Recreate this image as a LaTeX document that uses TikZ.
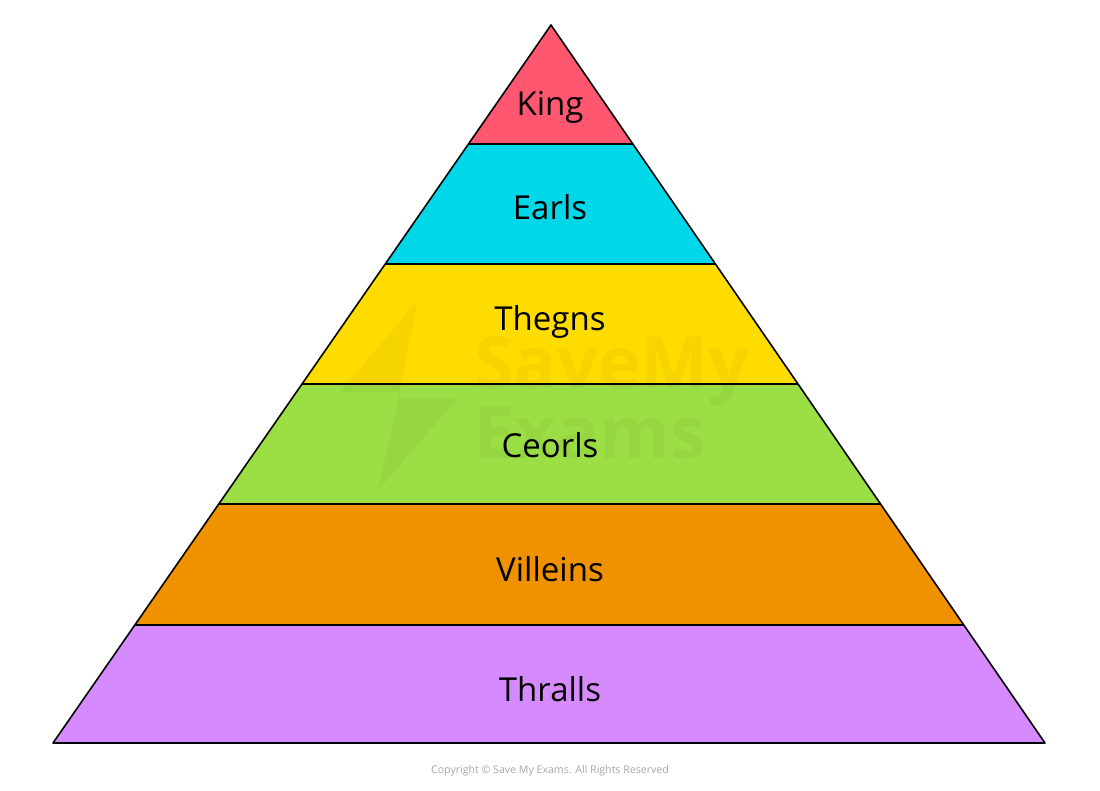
\documentclass[tikz,border=0pt]{standalone}
\usepackage{fontspec}
\setmainfont{Open Sans}
\newfontfamily\wmfont{Open Sans}
\definecolor{kingc}{HTML}{FF5770}
\definecolor{earlc}{HTML}{00D8EA}
\definecolor{thegc}{HTML}{FFDC00}
\definecolor{ceorc}{HTML}{9CDF44}
\definecolor{villc}{HTML}{F09200}
\definecolor{thrac}{HTML}{D68AFF}
\definecolor{copyc}{HTML}{A8A8A8}
\begin{document}
\begin{tikzpicture}[x=1pt,y=-1pt,
  layer/.style={draw=black,line width=1.6pt,line join=round},
  lbl/.style={font=\fontsize{33}{36}\selectfont,text=black,inner sep=0pt}]
\useasboundingbox (0,0) rectangle (1100,790);
\fill[white] (0,0) rectangle (1100,790);
% layers
\fill[kingc] (551,25) -- (632.9,144) -- (468.5,144) -- cycle;
\fill[earlc] (468.5,144) -- (632.9,144) -- (715.4,264) -- (385.2,264) -- cycle;
\fill[thegc] (385.2,264) -- (715.4,264) -- (798,384) -- (302,384) -- cycle;
\fill[ceorc] (302,384) -- (798,384) -- (880.6,504) -- (218.8,504) -- cycle;
\fill[villc] (218.8,504) -- (880.6,504) -- (963.8,625) -- (134.8,625) -- cycle;
\fill[thrac] (134.8,625) -- (963.8,625) -- (1045,743) -- (53,743) -- cycle;
% watermark
\begin{scope}[opacity=0.035]
\fill[black] (418,300) -- (340,392) -- (400,392) -- (378,490) -- (458,398) -- (398,398) -- cycle;
\node[anchor=west,font=\wmfont\bfseries\fontsize{72}{66}\selectfont,align=left,inner sep=0pt] (wm) at (474,398) {SaveMy\\Exams};
\end{scope}
% outlines
\draw[layer] (551,25) -- (1045,743) -- (53,743) -- cycle;
\draw[layer] (468.5,144) -- (632.9,144);
\draw[layer] (385.2,264) -- (715.4,264);
\draw[layer] (302,384) -- (798,384);
\draw[layer] (218.8,504) -- (880.6,504);
\draw[layer] (134.8,625) -- (963.8,625);
% labels
\node[lbl] (king) at (550,107) {King};
\node[lbl] (earls) at (550,207) {Earls};
\node[lbl] (thegns) at (550,322) {Thegns};
\node[lbl] (ceorls) at (550,445) {Ceorls};
\node[lbl] (villeins) at (550,569) {Villeins};
\node[lbl] (thralls) at (550,689) {Thralls};
\node[font=\fontsize{10.6}{12}\selectfont,text=copyc,inner sep=0pt] (copy) at (550,771) {Copyright © Save My Exams. All Rights Reserved};
\end{tikzpicture}
\end{document}
